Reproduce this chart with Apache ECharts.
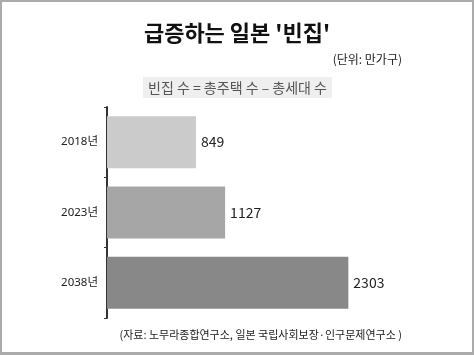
<!DOCTYPE html>
<html><head><meta charset="utf-8">
<script src="https://cdn.jsdelivr.net/npm/echarts@6/dist/echarts.min.js"></script>
<style>
html,body{margin:0;padding:0;background:#ababab;width:474px;height:355px;overflow:hidden}
#c{position:absolute;left:2px;top:2px;width:470px;height:350px;background:#fff}
</style></head>
<body><div id="c"></div>
<script>
const categories = ['2018년', '2023년', '2038년'];
const values = [849, 1127, 2303];
const barColors = ['#cbcbcb', '#a6a6a6', '#888888'];
const titleText = "급증하는 일본 '빈집'";
const unitText = '(단위: 만가구)';
const formulaText = '빈집 수 = 총주택 수 – 총세대 수';
const sourceText = '(자료: 노무라종합연구소, 일본 국립사회보장·인구문제연구소 )';

const font = '"Noto Sans CJK KR", "Noto Sans", sans-serif';
const labelFont = '"Noto Sans", "Noto Sans CJK KR", sans-serif';
const chart = echarts.init(document.getElementById('c'), null, {renderer: 'canvas'});
chart.setOption({
  backgroundColor: '#fff',
  animation: false,
  textStyle: {fontFamily: font},
  graphic: [
    {type: 'text', left: 'center', top: 20, style: {text: titleText, fontSize: 22, fontWeight: 'bold', fill: '#111', fontFamily: font}},
    {type: 'text', right: 70, top: 51, style: {text: unitText, fontSize: 12, fill: '#222', fontFamily: font}},
    {type: 'rect', shape: {x: 141, y: 75, width: 189, height: 21}, style: {fill: '#efefef'}},
    {type: 'text', x: 235.5, y: 86, style: {text: formulaText, fontSize: 14, fill: '#555', align: 'center', verticalAlign: 'middle', fontFamily: font}},
    {type: 'text', right: 70, top: 327, style: {text: sourceText, fontSize: 11, fill: '#222', fontFamily: font}}
  ],
  grid: {left: 105, top: 105, width: 262, height: 211},
  xAxis: {type: 'value', min: 0, max: 2500, show: false},
  yAxis: {
    type: 'category', data: categories, inverse: true,
    axisLine: {lineStyle: {color: '#333', width: 2}},
    axisTick: {show: true, length: 3, lineStyle: {color: '#333', width: 1}},
    axisLabel: {fontSize: 11.5, color: '#222', margin: 9, fontFamily: labelFont}
  },
  series: [{
    type: 'bar', barWidth: 52,
    data: values.map((v, i) => ({value: v, itemStyle: {color: barColors[i]}})),
    label: {show: true, position: 'right', distance: 5, fontSize: 14, color: '#222', fontFamily: font}
  }]
});
</script></body></html>
